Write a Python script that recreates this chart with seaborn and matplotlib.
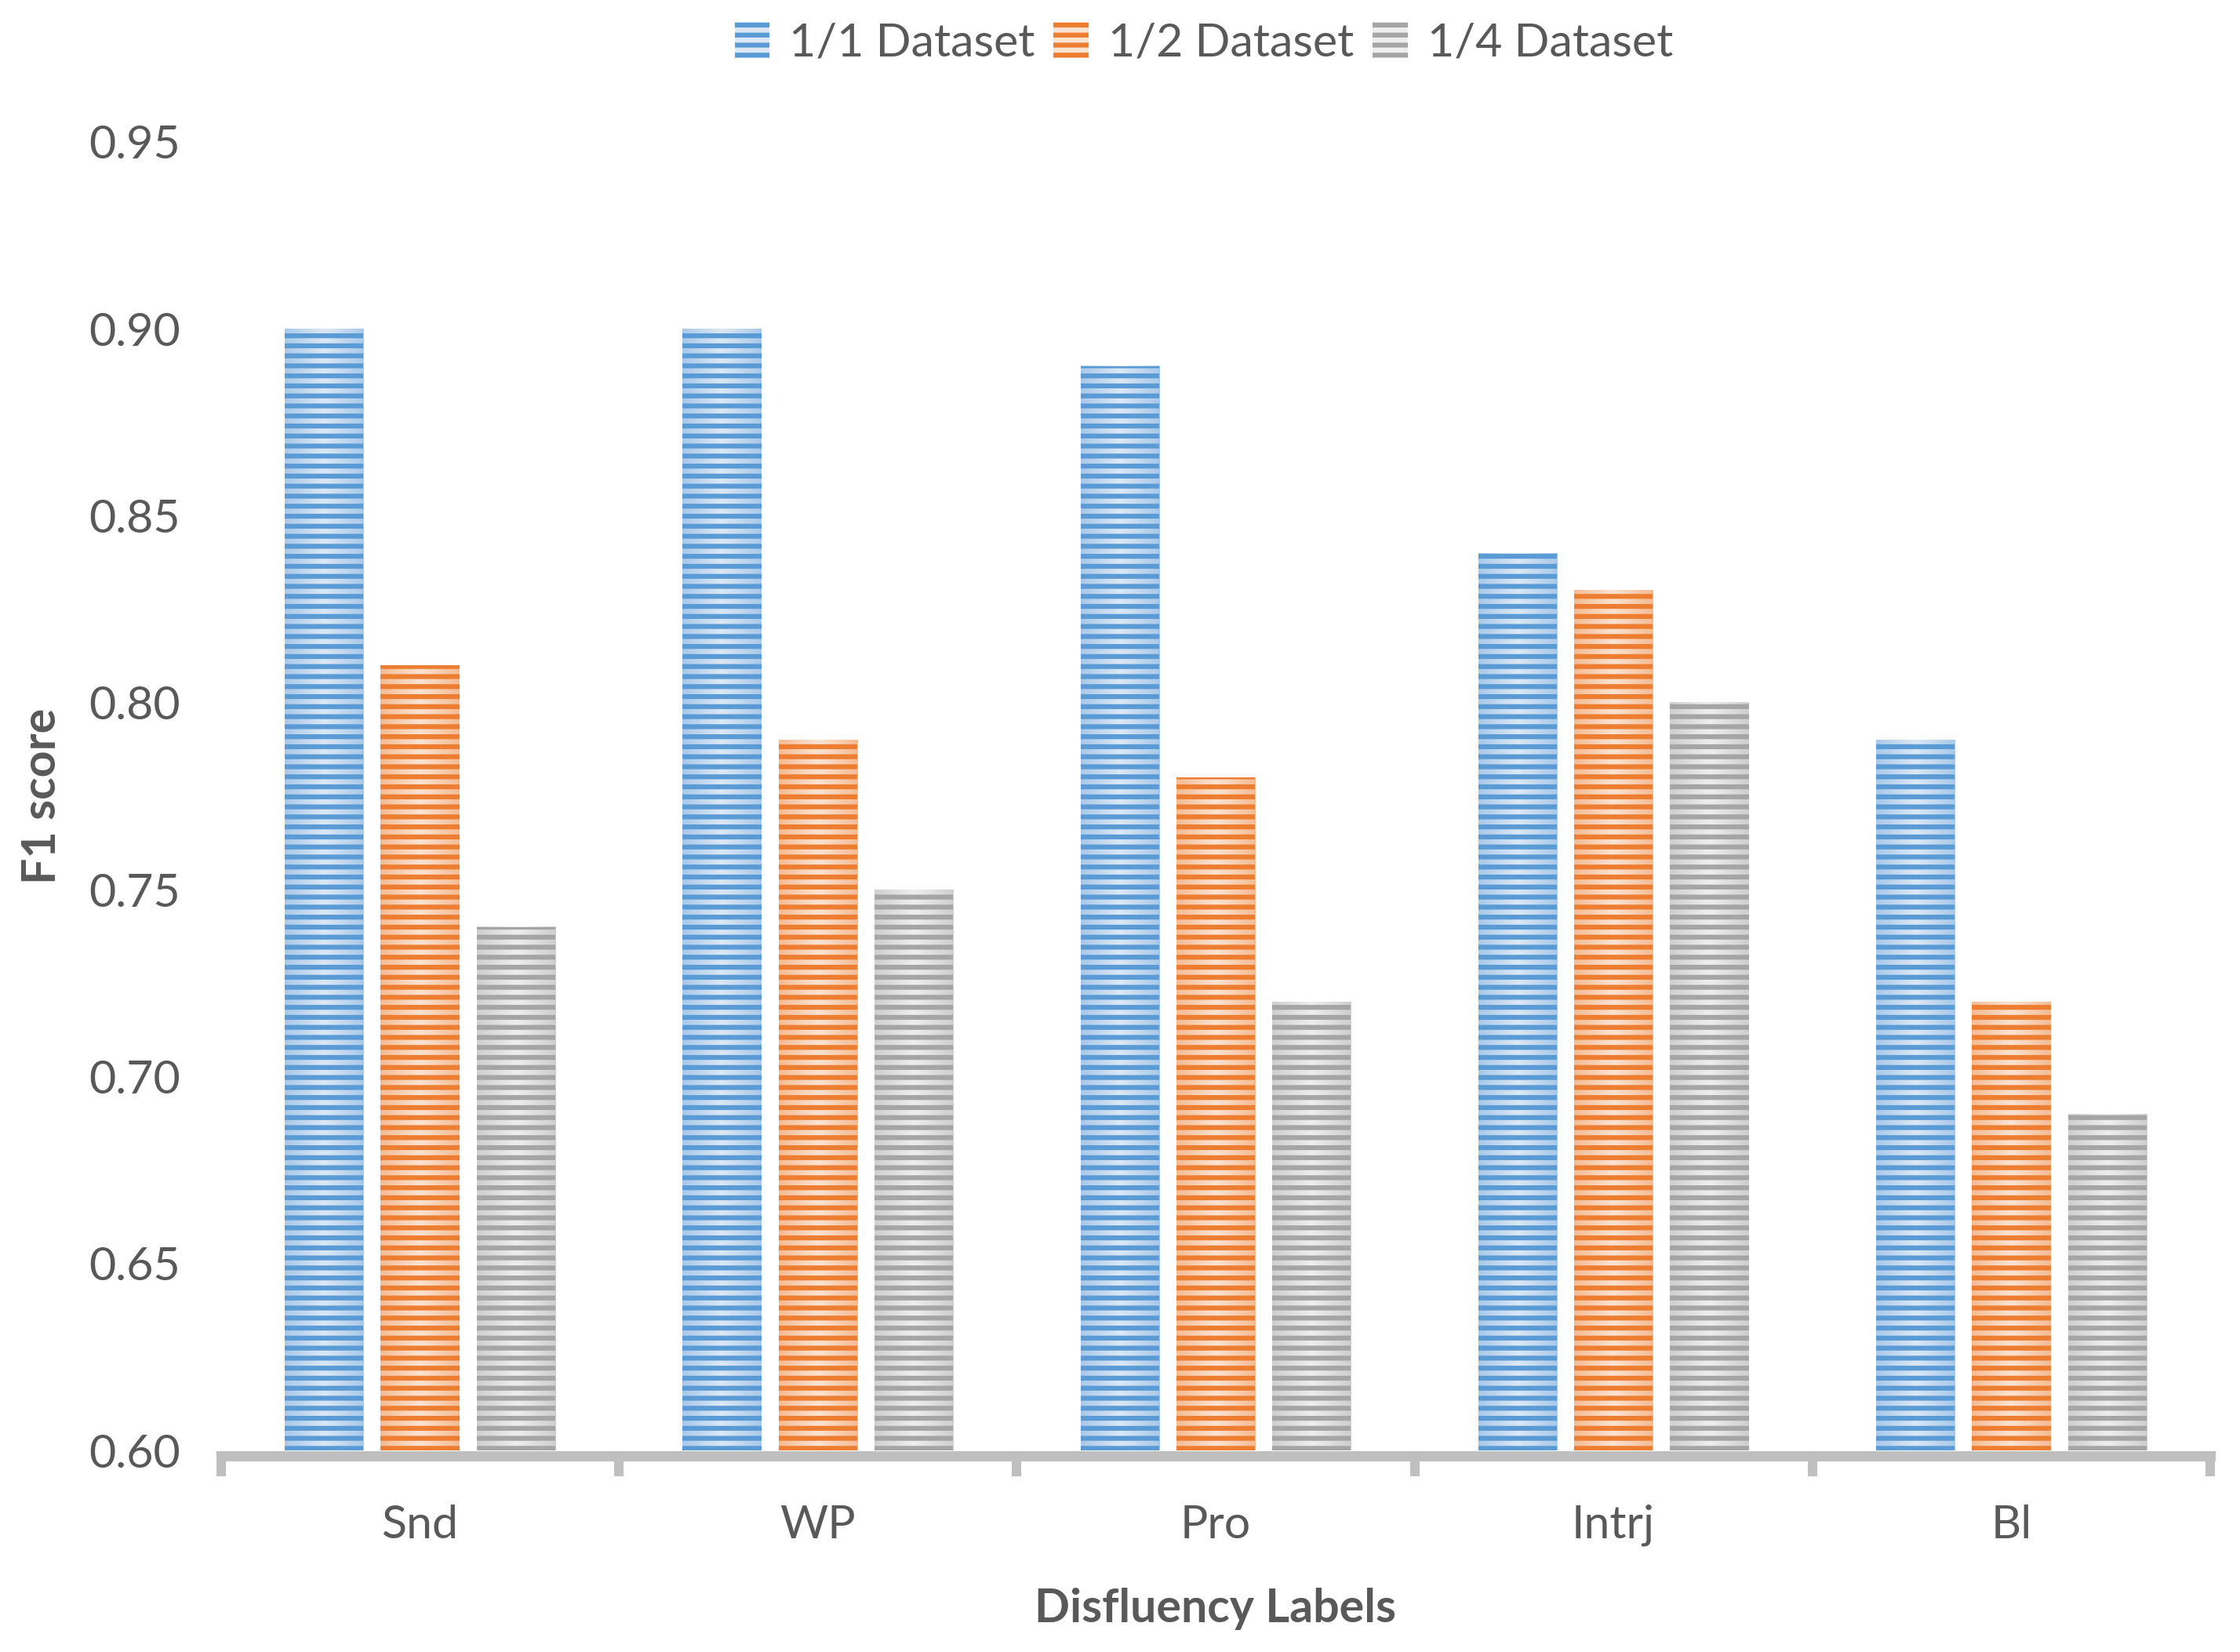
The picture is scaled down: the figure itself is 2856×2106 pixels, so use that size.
import numpy as np
import pandas as pd
import matplotlib
matplotlib.use("Agg")
import matplotlib.pyplot as plt
from matplotlib.colors import LinearSegmentedColormap
from matplotlib.patches import Patch
import seaborn as sns

labels = ["Snd", "WP", "Pro", "Intrj", "Bl"]
series = ["1/1 Dataset", "1/2 Dataset", "1/4 Dataset"]
full = [0.90, 0.90, 0.89, 0.84, 0.79]
half = [0.81, 0.79, 0.78, 0.83, 0.72]
quarter = [0.74, 0.75, 0.72, 0.80, 0.69]
yticks = [0.60, 0.65, 0.70, 0.75, 0.80, 0.85, 0.90, 0.95]

dark = ["#5B9BD5", "#ED7D31", "#A5A5A5"]
edge_light = ["#A9C9EA", "#F5BC94", "#CFCFCF"]
center_light = ["#DCE8F5", "#FBE3D2", "#EEEEEE"]

df = pd.DataFrame({
    "label": labels * 3,
    "score": full + half + quarter,
    "dataset": [s for s in series for _ in labels],
})

DPI = 230
sns.set_theme(style="white")
plt.rcParams["font.family"] = ["Lato", "DejaVu Sans"]
plt.rcParams["hatch.linewidth"] = 1.95
text_color = "#595959"
fs = 18.5

fig = plt.figure(figsize=(2856 / DPI, 2106 / DPI), dpi=DPI)
ax = fig.add_axes([0.0987, 0.1220, 0.8880, 0.7921])

sns.barplot(data=df, x="label", y="score", hue="dataset", order=labels,
            hue_order=series, palette=dark, width=0.723, gap=0.18,
            ax=ax, legend=False, zorder=2)

ymin, ymax = 0.60, 0.95
n = len(labels)
bars = list(ax.patches[: 3 * n])
for i, bar in enumerate(bars):
    k = i // n
    bar.set_facecolor("none")
    bar.set_edgecolor(dark[k])
    bar.set_linewidth(0)
    bar.set_hatch("---")
    x0, y0 = bar.get_x(), bar.get_y()
    w, h = bar.get_width(), bar.get_height()
    cmap = LinearSegmentedColormap.from_list(
        "g%d" % k, [edge_light[k], center_light[k], edge_light[k]])
    grad = np.linspace(0, 1, 64).reshape(1, -1)
    ax.imshow(grad, cmap=cmap, aspect="auto",
              extent=[x0, x0 + w, max(y0, ymin), y0 + h], zorder=1,
              interpolation="bilinear")

ax.set_xlim(-0.5, n - 0.5)
ax.set_ylim(ymin, ymax)
ax.set_yticks(yticks)
ax.set_yticklabels([f"{t:.2f}" for t in yticks])
ax.set_xticks(range(n))
ax.set_xticklabels(labels)

for s in ["left", "right", "top"]:
    ax.spines[s].set_visible(False)
sp = ax.spines["bottom"]
sp.set_color("#BFBFBF")
sp.set_linewidth(4.07)
sp.set_zorder(3)
sp.set_position(("outward", 2.03))

ax.set_xticks(np.arange(-0.5, n, 1.0), minor=True)
ax.tick_params(axis="x", which="minor", length=8, width=3.75,
               color="#BFBFBF", direction="out", bottom=True)
ax.tick_params(axis="x", which="major", length=0, pad=19.5,
               labelsize=fs, labelcolor=text_color, bottom=True)
ax.tick_params(axis="y", length=0, pad=16.3, labelsize=fs,
               labelcolor=text_color)

ax.set_xlabel("Disfluency Labels", fontsize=fs, fontweight="bold",
              color=text_color)
ax.set_ylabel("F1 score", fontsize=fs, fontweight="bold", color=text_color)
ax.xaxis.set_label_coords(0.50, -0.105)
ax.yaxis.set_label_coords(-0.0793, 0.5)

handles = [Patch(facecolor=center_light[k], edgecolor=dark[k], linewidth=0,
                 hatch="---") for k in range(3)]
leg = ax.legend(handles, series, loc="center", bbox_to_anchor=(0.494, 1.0755),
                ncol=3, frameon=False, fontsize=fs, handlelength=0.76,
                handleheight=0.81, handletextpad=0.42, columnspacing=0.4)
for t in leg.get_texts():
    t.set_color(text_color)

fig.savefig("out.png", dpi=DPI)
